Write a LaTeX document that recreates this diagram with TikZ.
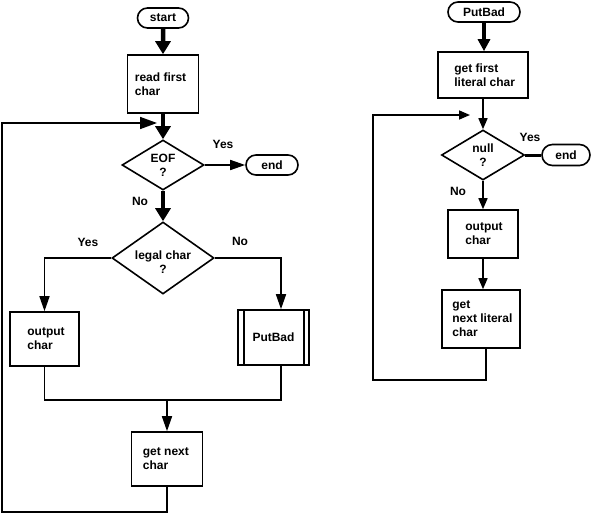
\documentclass[tikz,border=0pt]{standalone}
\usepackage{fontspec}
\setmainfont{Liberation Sans}
\usetikzlibrary{arrows.meta,shapes.geometric,shapes.misc,calc}
\begin{document}
\begin{tikzpicture}[x=1pt,y=-1pt,
  font=\fontsize{12}{14}\selectfont\bfseries,
  box/.style={draw, line width=1.6pt, inner sep=0pt},
  term/.style={draw, rounded rectangle, line width=1.6pt, inner sep=0pt},
  decision/.style={draw, diamond, line width=1.6pt, inner sep=0pt},
  txt/.style={align=left, inner sep=0pt, anchor=west},
  lbl/.style={inner sep=0pt},
  conn/.style={line width=1.6pt},
  arr/.style={conn, -{Triangle[length=15pt,width=10pt]}},
  bigarr/.style={conn, -{Triangle[length=17pt,width=12pt]}},
  thickarr/.style={line width=4.5pt, -{Triangle[length=13pt,width=15pt]}},
  rarr/.style={conn, -{Triangle[length=11pt,width=9pt]}},
  rthick/.style={line width=4pt, -{Triangle[length=12pt,width=12pt]}}
]
\useasboundingbox (0,0) rectangle (592,514);

% ---------- left chart ----------
\node[term, minimum width=51pt, minimum height=20pt] (start) at (163,18) {start};
\node[box, minimum width=71pt, minimum height=58pt] (read) at (163,84) {};
\node[txt] (readt) at ($(read.west)+(8,0)$) {read first\\char};
\node[decision, minimum width=82pt, minimum height=50pt] (eof) at (163,165) {};
\node[lbl, align=center] (eoft) at (eof) {EOF\\?};
\node[term, minimum width=52pt, minimum height=20pt] (end1) at (272,165) {end};
\node[decision, minimum width=102pt, minimum height=72pt] (legal) at (163,258) {};
\node[lbl, align=center] (legalt) at ($(legal)+(0,4)$) {legal char\\?};
\node[box, minimum width=69pt, minimum height=54pt] (out1) at (44.5,339) {};
\node[txt] (out1t) at ($(out1.west)+(18,0)$) {output\\char};
\node[box, minimum width=71pt, minimum height=55pt] (pb) at (273.5,337.5) {};
\node[lbl] (pbt) at (pb) {PutBad};
\draw[conn] ($(pb.north west)+(7,0)$) -- ($(pb.south west)+(7,0)$);
\draw[conn] ($(pb.north east)+(-6,0)$) -- ($(pb.south east)+(-6,0)$);
\node[box, minimum width=71pt, minimum height=54pt] (gn) at (167,459) {};
\node[txt] (gnt) at ($(gn.west)+(12,0)$) {get next\\char};

\node[lbl] (yes1) at (223,144) {Yes};
\node[lbl] (no1) at (140,201) {No};
\node[lbl] (yes2) at (88,242) {Yes};
\node[lbl] (no2) at (240,241) {No};

\coordinate (pbtop) at ($(pb.north)+(7.5,0)$);
\coordinate (pbbot) at ($(pb.south)+(7.5,0)$);
\coordinate (merge) at (167,400);
\coordinate (loopin) at (157,123);
\coordinate (lb) at (2,512);

\draw[thickarr] (start) -- (read);
\draw[thickarr] (read) -- (eof);
\draw[thickarr] (eof) -- (legal);
\draw[arr] (eof) -- (end1);
\draw[arr] (legal.west) -| (out1.north);
\draw[arr] (legal.east) -| (pbtop);
\draw[conn] (out1.south) |- (merge) -| (pbbot);
\draw[arr] (merge) -- (gn.north);
\draw[bigarr] (gn.south) |- (lb) |- (loopin);

% ---------- right chart ----------
\node[term, minimum width=72pt, minimum height=20pt] (pbs) at (484,12) {PutBad};
\node[box, minimum width=90pt, minimum height=46pt] (gf) at (483,75) {};
\node[txt] (gft) at ($(gf.west)+(17,0)$) {get first\\literal char};
\node[decision, minimum width=83pt, minimum height=50pt] (nul) at (483,155) {};
\node[lbl, align=center] (nult) at (nul) {null\\?};
\node[term, minimum width=48pt, minimum height=21pt] (end2) at (566,155) {end};
\node[box, minimum width=70pt, minimum height=48pt] (out2) at (483,234) {};
\node[txt] (out2t) at ($(out2.west)+(18,0)$) {output\\char};
\node[box, minimum width=78pt, minimum height=58pt] (gn2) at (481,319) {};
\node[txt] (gn2t) at ($(gn2.west)+(11,0)$) {get\\next literal\\char};

\node[lbl] (yes3) at (530,137) {Yes};
\node[lbl] (no3) at (458,191) {No};

\coordinate (rloopin) at (470,115);
\coordinate (rlb) at (373,380);
\coordinate (gn2out) at ($(gn2.south)+(5,0)$);

\draw[rthick] (pbs.south) -- (pbs.south |- gf.north);
\draw[rarr] (gf) -- (nul);
\draw[line width=3pt] (nul) -- (end2);
\draw[rarr] (nul) -- (out2);
\draw[rarr] (out2.south) -- (out2.south |- gn2.north);
\draw[rarr] (gn2out) |- (rlb) |- (rloopin);
\end{tikzpicture}
\end{document}
